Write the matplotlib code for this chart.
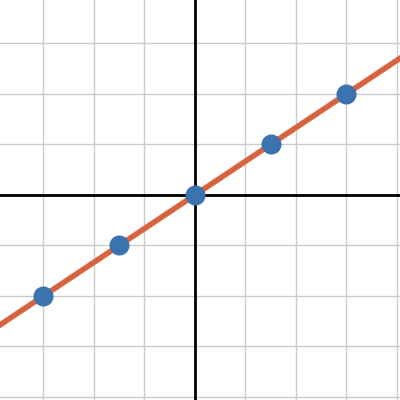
import matplotlib
matplotlib.use("Agg")
import matplotlib.pyplot as plt
import numpy as np

pts_x = [-3, -1.5, 0, 1.5, 3]
pts_y = [-2, -1, 0, 1, 2]
slope = 2/3

fig = plt.figure(figsize=(4, 4), dpi=100)
ax = fig.add_axes([0, 0, 1, 1])
xmin, xmax = -3.86, 4.06
ymin, ymax = -4.06, 3.86
ax.set_xlim(xmin, xmax)
ax.set_ylim(ymin, ymax)
for v in np.arange(-4, 5):
    ax.axvline(v, color="#cccccc", lw=1, zorder=0)
    ax.axhline(v, color="#cccccc", lw=1, zorder=0)
ax.axvline(0, color="black", lw=2, zorder=1)
ax.axhline(0, color="black", lw=2, zorder=1)
lx = np.array([xmin, xmax])
ax.plot(lx, slope * lx, color="#d9623f", lw=4, zorder=2)
ax.scatter(pts_x, pts_y, s=180, color="#3a73ad", zorder=3)
ax.set_xticks([]); ax.set_yticks([])
for s in ax.spines.values():
    s.set_visible(False)
fig.savefig("out.png", dpi=100)
